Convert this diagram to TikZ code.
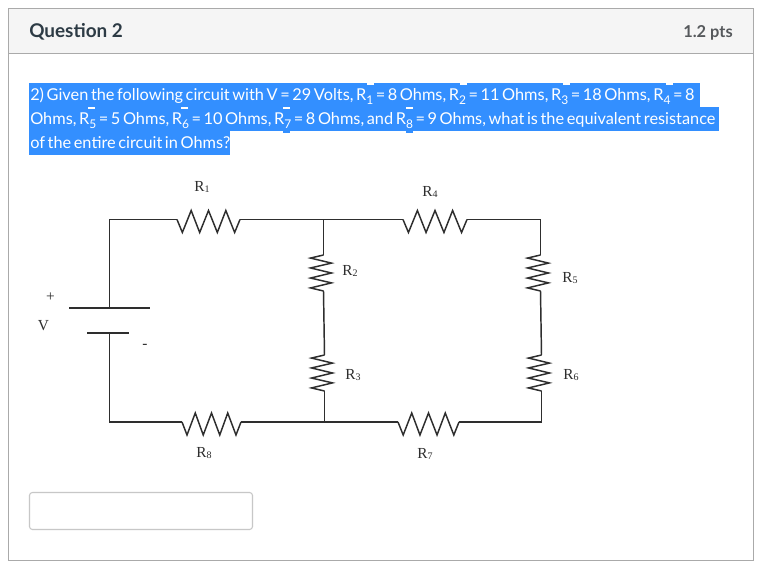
\documentclass[tikz,border=0pt]{standalone}
\usepackage{fontspec}
\setmainfont{Lato}
\newfontfamily\labelfont{Liberation Serif}
\newfontfamily\selfont[WordSpace=0.62]{Lato}
\usetikzlibrary{calc}
\definecolor{frameGray}{HTML}{AAAAAA}
\definecolor{headGray}{HTML}{F5F5F5}
\definecolor{selBlue}{HTML}{338FFF}
\definecolor{inkDark}{HTML}{2D3B45}
\definecolor{inkPts}{HTML}{56595C}
\definecolor{wireGray}{HTML}{2E2E2E}
\newcommand{\pxscale}{0.75pt}
\newcommand{\zigzag}[2]{(\tikztostart)
  -- ($(\tikztostart)!.085!(\tikztotarget)+#1$) -- ($(\tikztostart)!.225!(\tikztotarget)+#2$)
  -- ($(\tikztostart)!.36!(\tikztotarget)+#1$) -- ($(\tikztostart)!.5!(\tikztotarget)+#2$)
  -- ($(\tikztostart)!.64!(\tikztotarget)+#1$) -- ($(\tikztostart)!.775!(\tikztotarget)+#2$)
  -- ($(\tikztostart)!.915!(\tikztotarget)+#1$) -- (\tikztotarget)}
\newcommand{\sel}[1]{\raisebox{-3pt}{\fontsize{9}{10}\selectfont #1}}
\newcommand{\rlab}[1]{{\labelfont R\raisebox{-1pt}{\fontsize{7.5}{8}\selectfont #1}}}
\tikzstyle{wire}=[draw=wireGray,line width=1.1pt,line join=miter]
\tikzstyle{hres}=[to path={\zigzag{(0,13)}{(0,-9)}}]
\tikzstyle{vres}=[to path={\zigzag{(-13,0)}{(8,0)}}]
\tikzstyle{seltext}=[anchor=base west,inner sep=0pt,text=white,font=\fontsize{12.25}{14}\selectfont\selfont]
\tikzstyle{circlabel}=[inner sep=0pt,text=wireGray,font=\fontsize{11.5}{13}\selectfont\labelfont]

\begin{document}
\begin{tikzpicture}[x=\pxscale,y=-\pxscale]
    \useasboundingbox (0,0) rectangle (767,573);
    \fill[white] (0,0) rectangle (767,573);
    % frame and header
    \fill[headGray] (8.5,8.5) rectangle (753.5,53.5);
    \draw[frameGray,line width=.9pt] (8.5,8.5) rectangle (753.5,560.5);
    \draw[frameGray,line width=.9pt] (8.5,53.5) -- (753.5,53.5);
    \node[anchor=base west,inner sep=0pt,text=inkDark,font=\fontsize{14.2}{16}\selectfont\bfseries] (qtitle) at (29,38) {Question 2};
    \node[anchor=base east,inner sep=0pt,text=inkPts,font=\fontsize{12.3}{14}\selectfont\bfseries] (qpts) at (733,37.5) {1.2 pts};
    % selection
    \fill[selBlue] (29,83) rectangle (700,107);
    \fill[selBlue] (29,107) rectangle (719,131);
    \fill[selBlue] (29,131) rectangle (230,155);
    \foreach \x in {367,460,563,666} {
        \fill[white] (\x,83) rectangle ++(7,2.2);
        \fill[selBlue] (\x,107) rectangle ++(7,2.2);
    }
    \foreach \x in {88,181,283,406} {
        \fill[white] (\x,107) rectangle ++(7,2.2);
        \fill[selBlue] (\x,131) rectangle ++(7,2.2);
    }
    \node[seltext] (line1) at (30,101) {2) Given the following circuit with V = 29 Volts, R\sel{1} = 8 Ohms, R\sel{2} = 11 Ohms, R\sel{3} = 18 Ohms, R\sel{4} = 8};
    \node[seltext] (line2) at (30,125) {Ohms, R\sel{5} = 5 Ohms, R\sel{6} = 10 Ohms, R\sel{7} = 8 Ohms, and R\sel{8} = 9 Ohms, what is the equivalent resistance};
    \node[seltext] (line3) at (30,149) {of the entire circuit in Ohms?};
    % circuit
    \coordinate (tl) at (109.5,219.5);
    \coordinate (bl) at (109.5,422);
    \coordinate (tm) at (323.5,219.5);
    \coordinate (bm) at (324.5,422);
    \coordinate (tr) at (540.5,219.5);
    \coordinate (br) at (541.5,422);
    \coordinate (r1a) at (177,219.5);
    \coordinate (r1b) at (240,219.5);
    \coordinate (r4a) at (403,219.5);
    \coordinate (r4b) at (467,219.5);
    \coordinate (r8a) at (182,422);
    \coordinate (r8b) at (241,422);
    \coordinate (r7a) at (398,422);
    \coordinate (r7b) at (459,422);
    \coordinate (r2a) at (323.5,255);
    \coordinate (r2b) at (323.5,291);
    \coordinate (r3a) at (324.5,355);
    \coordinate (r3b) at (324.5,391);
    \coordinate (r5a) at (540.5,255);
    \coordinate (r5b) at (540.5,291);
    \coordinate (r6a) at (541.5,355);
    \coordinate (r6b) at (541.5,391);
    \coordinate (plusL) at (69,308);
    \coordinate (plusR) at (150,308);
    \coordinate (plusM) at (109.5,308);
    \coordinate (minL) at (87,333);
    \coordinate (minR) at (129,333);
    \coordinate (minM) at (109.5,333);
    \draw[wire] (plusL) -- (plusR);
    \draw[wire] (minL) -- (minR);
    \draw[wire] (plusM) -- (tl) -- (r1a);
    \draw[wire] (r1a) to[hres] (r1b);
    \draw[wire] (r1b) -- (tm) -- (r4a);
    \draw[wire] (r4a) to[hres] (r4b);
    \draw[wire] (r4b) -- (tr) -- (r5a);
    \draw[wire] (r5a) to[vres] (r5b);
    \draw[wire] (r5b) -- (r6a);
    \draw[wire] (r6a) to[vres] (r6b);
    \draw[wire] (r6b) -- (br) -- (r7b);
    \draw[wire] (r7a) to[hres] (r7b);
    \draw[wire] (r7a) -- (bm) -- (r8b);
    \draw[wire] (r8a) to[hres] (r8b);
    \draw[wire] (r8a) -- (bl) -- (minM);
    \draw[wire] (tm) -- (r2a);
    \draw[wire] (r2a) to[vres] (r2b);
    \draw[wire] (r2b) -- (r3a);
    \draw[wire] (r3a) to[vres] (r3b);
    \draw[wire] (r3b) -- (bm);
    % labels
    \node[circlabel] (labR1) at (202,187) {\rlab{1}};
    \node[circlabel] (labR2) at (350,271) {\rlab{2}};
    \node[circlabel] (labR3) at (353,375) {\rlab{3}};
    \node[circlabel] (labR4) at (430,192) {\rlab{4}};
    \node[circlabel] (labR5) at (570,278) {\rlab{5}};
    \node[circlabel] (labR6) at (571,375) {\rlab{6}};
    \node[circlabel] (labR7) at (425,454) {\rlab{7}};
    \node[circlabel] (labR8) at (204,453) {\rlab{8}};
    \node[circlabel] (labPlus) at (50.5,297) {+};
    \node[circlabel] (labV) at (43.5,326) {V};
    \node[circlabel] (labMinus) at (145,346) {-};
    % answer box
    \draw[draw=black!22,line width=.8pt,rounded corners=2.2pt] (29.5,492.5) rectangle (252.5,529.5);
\end{tikzpicture}
\end{document}
